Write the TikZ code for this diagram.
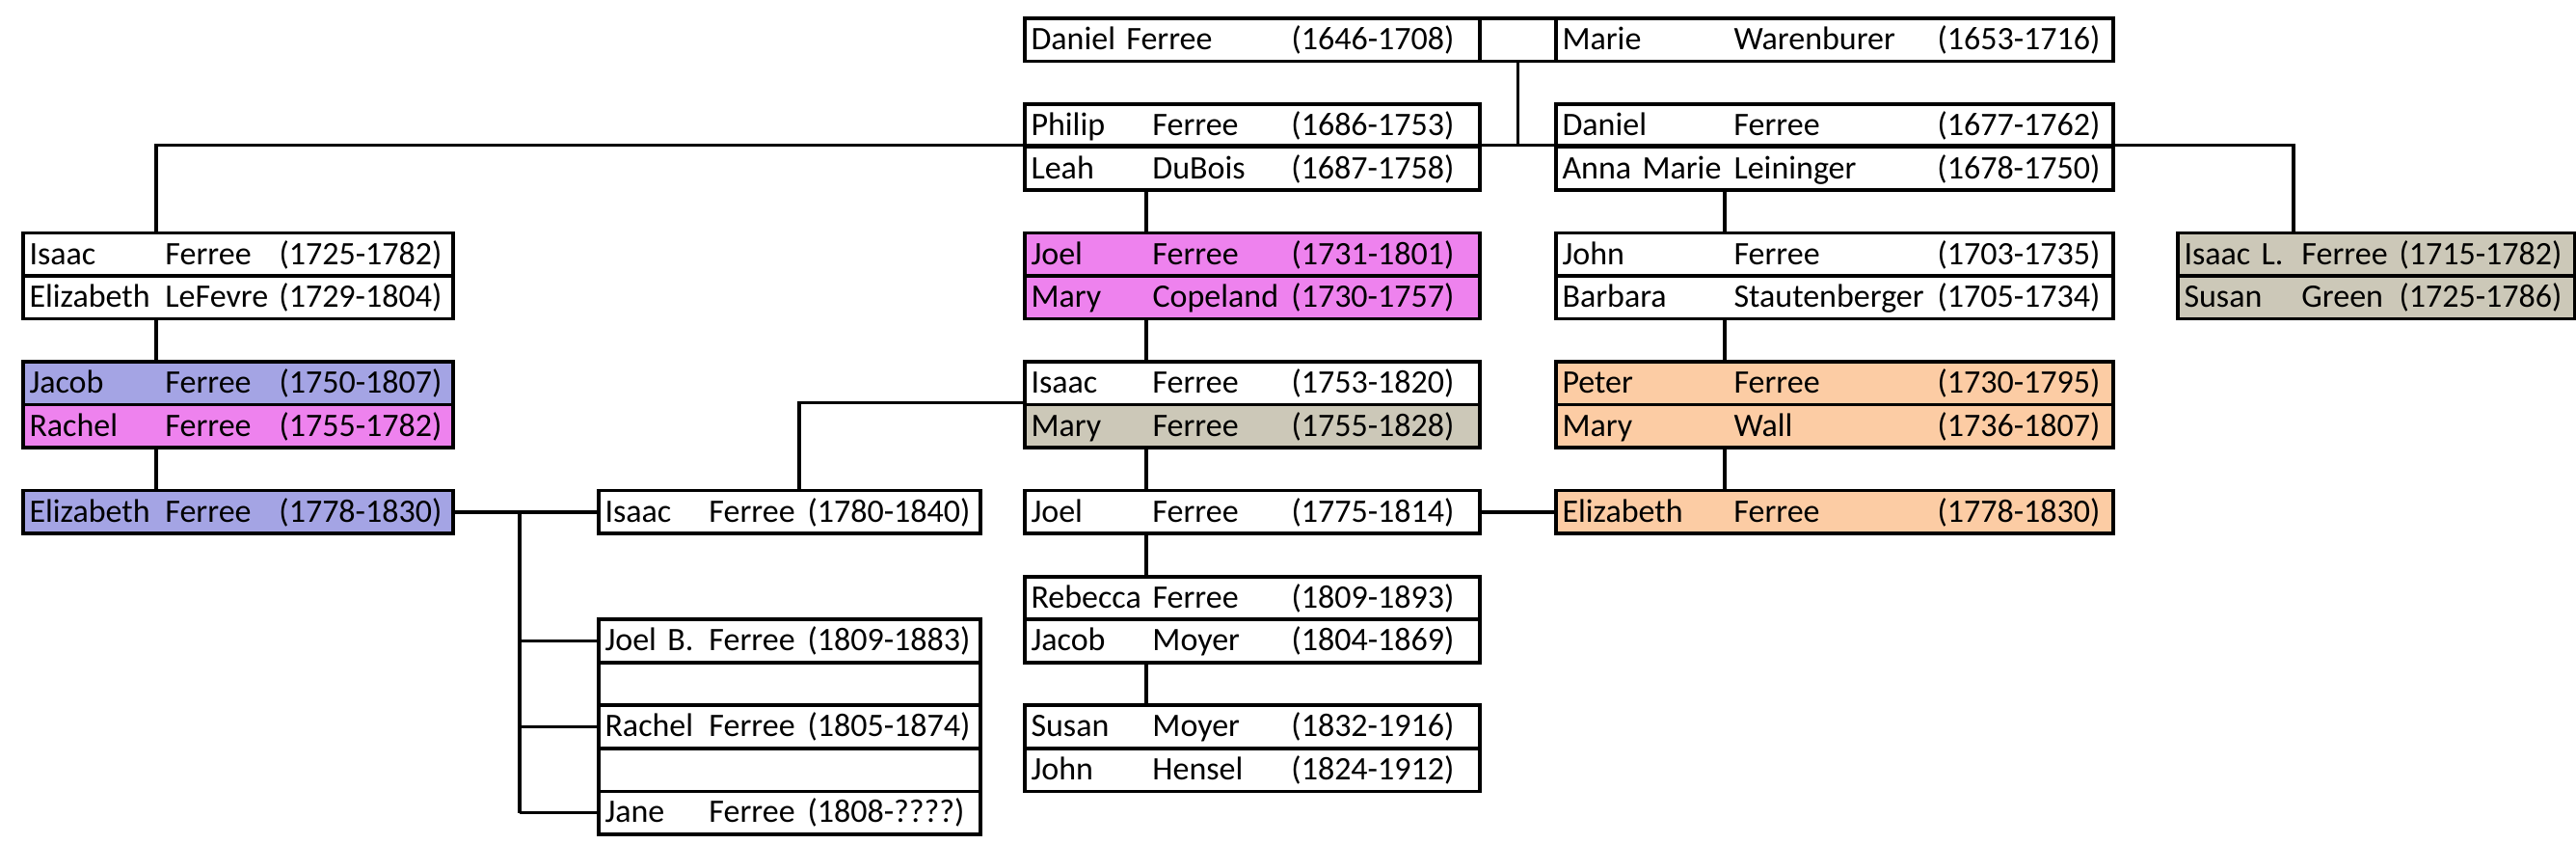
\documentclass[tikz,border=0pt]{standalone}
\usepackage{fontspec}
\setmainfont{Carlito}
\usepackage{tikz}
\usetikzlibrary{calc}

\definecolor{violetrow}{RGB}{238,130,238}
\definecolor{bluerow}{RGB}{164,164,228}
\definecolor{tanrow}{RGB}{204,200,184}
\definecolor{peachrow}{RGB}{252,204,164}

% one row of a couple box: first name, last name, dates
\newcommand{\rowL}[3]{\makebox[42.3pt][l]{#1}\makebox[35.4pt][l]{#2}#3}
\newcommand{\rowK}[3]{\makebox[32.4pt][l]{#1}\makebox[30.6pt][l]{#2}#3}
\newcommand{\rowC}[3]{\makebox[37.8pt][l]{#1}\makebox[43.2pt][l]{#2}#3}
\newcommand{\rowR}[3]{\makebox[53.4pt][l]{#1}\makebox[63.3pt][l]{#2}#3}
\newcommand{\rowF}[3]{\makebox[36.6pt][l]{#1}\makebox[30.3pt][l]{#2}#3}

\tikzset{
    box/.style={draw, line width=1.1pt, fill=white, anchor=north west,
        minimum height=13.359pt, inner xsep=2pt, inner ysep=0pt, align=left,
        text height=7.9pt, text depth=1.7pt, font=\fontsize{10.2}{12}\selectfont},
    lbox/.style={box, text width=129.8pt},
    kbox/.style={box, text width=114.8pt},
    cbox/.style={box, text width=137.6pt},
    rbox/.style={box, text width=169.4pt},
    fbox/.style={box, text width=119.6pt},
    link/.style={line width=1pt}
}

\begin{document}
\begin{tikzpicture}[x=0.3pt, y=-13.359pt]
            \useasboundingbox (0,-0.382) rectangle (2672,19.268);

            \coordinate (lB) at (162,0);
            \coordinate (kL) at (539,0);
            \coordinate (kB) at (829,0);
            \coordinate (cB) at (1189,0);
            \coordinate (rB) at (1789,0);
            \coordinate (fB) at (2379,0);

            % first couple
            \node[cbox] (daniel) at (1061,0) {\makebox[81pt][l]{Daniel Ferree}(1646-1708)};
            \node[box, minimum width=23.7pt, inner sep=0pt] (gap) at (1533,0) {};
            \node[rbox] (marie) at (1612,0) {\rowR{Marie}{Warenburer}{(1653-1716)}};

            % sons
            \node[cbox] (philip) at (1061,2) {\rowC{Philip}{Ferree}{(1686-1753)}};
            \node[cbox] (leah) at (1061,3) {\rowC{Leah}{DuBois}{(1687-1758)}};
            \node[rbox] (danielB) at (1612,2) {\rowR{Daniel}{Ferree}{(1677-1762)}};
            \node[rbox] (anna) at (1612,3) {\rowR{Anna Marie}{Leininger}{(1678-1750)}};

            % grandchildren
            \node[lbox] (isaacA) at (22,5) {\rowL{Isaac}{Ferree}{(1725-1782)}};
            \node[lbox] (elizL) at (22,6) {\rowL{Elizabeth}{LeFevre}{(1729-1804)}};
            \node[cbox, fill=violetrow] (joel) at (1061,5) {\rowC{Joel}{Ferree}{(1731-1801)}};
            \node[cbox, fill=violetrow] (maryC) at (1061,6) {\rowC{Mary}{Copeland}{(1730-1757)}};
            \node[rbox] (john) at (1612,5) {\rowR{John}{Ferree}{(1703-1735)}};
            \node[rbox] (barbara) at (1612,6) {\rowR{Barbara}{Stautenberger}{(1705-1734)}};
            \node[fbox, fill=tanrow] (isaacL) at (2257,5) {\rowF{Isaac L.}{Ferree}{(1715-1782)}};
            \node[fbox, fill=tanrow] (susanG) at (2257,6) {\rowF{Susan}{Green}{(1725-1786)}};

            \node[lbox, fill=bluerow] (jacob) at (22,8) {\rowL{Jacob}{Ferree}{(1750-1807)}};
            \node[lbox, fill=violetrow] (rachel) at (22,9) {\rowL{Rachel}{Ferree}{(1755-1782)}};
            \node[cbox] (isaacB) at (1061,8) {\rowC{Isaac}{Ferree}{(1753-1820)}};
            \node[cbox, fill=tanrow] (maryF) at (1061,9) {\rowC{Mary}{Ferree}{(1755-1828)}};
            \node[rbox, fill=peachrow] (peter) at (1612,8) {\rowR{Peter}{Ferree}{(1730-1795)}};
            \node[rbox, fill=peachrow] (maryW) at (1612,9) {\rowR{Mary}{Wall}{(1736-1807)}};

            \node[lbox, fill=bluerow] (elizB) at (22,11) {\rowL{Elizabeth}{Ferree}{(1778-1830)}};
            \node[kbox] (isaacK) at (619,11) {\rowK{Isaac}{Ferree}{(1780-1840)}};
            \node[cbox] (joelF) at (1061,11) {\rowC{Joel}{Ferree}{(1775-1814)}};
            \node[rbox, fill=peachrow] (elizO) at (1612,11) {\rowR{Elizabeth}{Ferree}{(1778-1830)}};

            % children of Elizabeth
            \node[kbox] (joelB) at (619,14) {\rowK{Joel B.}{Ferree}{(1809-1883)}};
            \node[kbox] (blankA) at (619,15) {};
            \node[kbox] (rachelF) at (619,16) {\rowK{Rachel}{Ferree}{(1805-1874)}};
            \node[kbox] (blankB) at (619,17) {};
            \node[kbox] (jane) at (619,18) {\rowK{Jane}{Ferree}{(1808-????)}};

            % Joel's line
            \node[cbox] (rebecca) at (1061,13) {\rowC{Rebecca}{Ferree}{(1809-1893)}};
            \node[cbox] (jacobM) at (1061,14) {\rowC{Jacob}{Moyer}{(1804-1869)}};
            \node[cbox] (susanM) at (1061,16) {\rowC{Susan}{Moyer}{(1832-1916)}};
            \node[cbox] (johnH) at (1061,17) {\rowC{John}{Hensel}{(1824-1912)}};

            \draw[link] (isaacA.north -| lB) -- (leah.north -| lB) -- (leah.north -| fB) -- (isaacL.north -| fB);
            \draw[link] (gap.south) -- (gap.south |- leah.north);

            \draw[link] (elizL.south -| lB) -- (jacob.north -| lB);
            \draw[link] (rachel.south -| lB) -- (elizB.north -| lB);

            \draw[link] (leah.south -| cB) -- (joel.north -| cB);
            \draw[link] (maryC.south -| cB) -- (isaacB.north -| cB);
            \draw[link] (maryF.south -| cB) -- (joelF.north -| cB);
            \draw[link] (joelF.south -| cB) -- (rebecca.north -| cB);
            \draw[link] (jacobM.south -| cB) -- (susanM.north -| cB);

            \draw[link] (anna.south -| rB) -- (john.north -| rB);
            \draw[link] (barbara.south -| rB) -- (peter.north -| rB);
            \draw[link] (maryW.south -| rB) -- (elizO.north -| rB);

            \draw[link] (maryF.north west) -- (maryF.north west -| kB) -- (isaacK.north -| kB);
            \draw[link] (joelF.east) -- (elizO.west);

            \draw[link] (elizB.east) -- (isaacK.west);
            \draw[link] (elizB.east -| kL) -- (jane.west -| kL);
            \draw[link] (joelB.west -| kL) -- (joelB.west);
            \draw[link] (rachelF.west -| kL) -- (rachelF.west);
            \draw[link] (jane.west -| kL) -- (jane.west);

\end{tikzpicture}
\end{document}
